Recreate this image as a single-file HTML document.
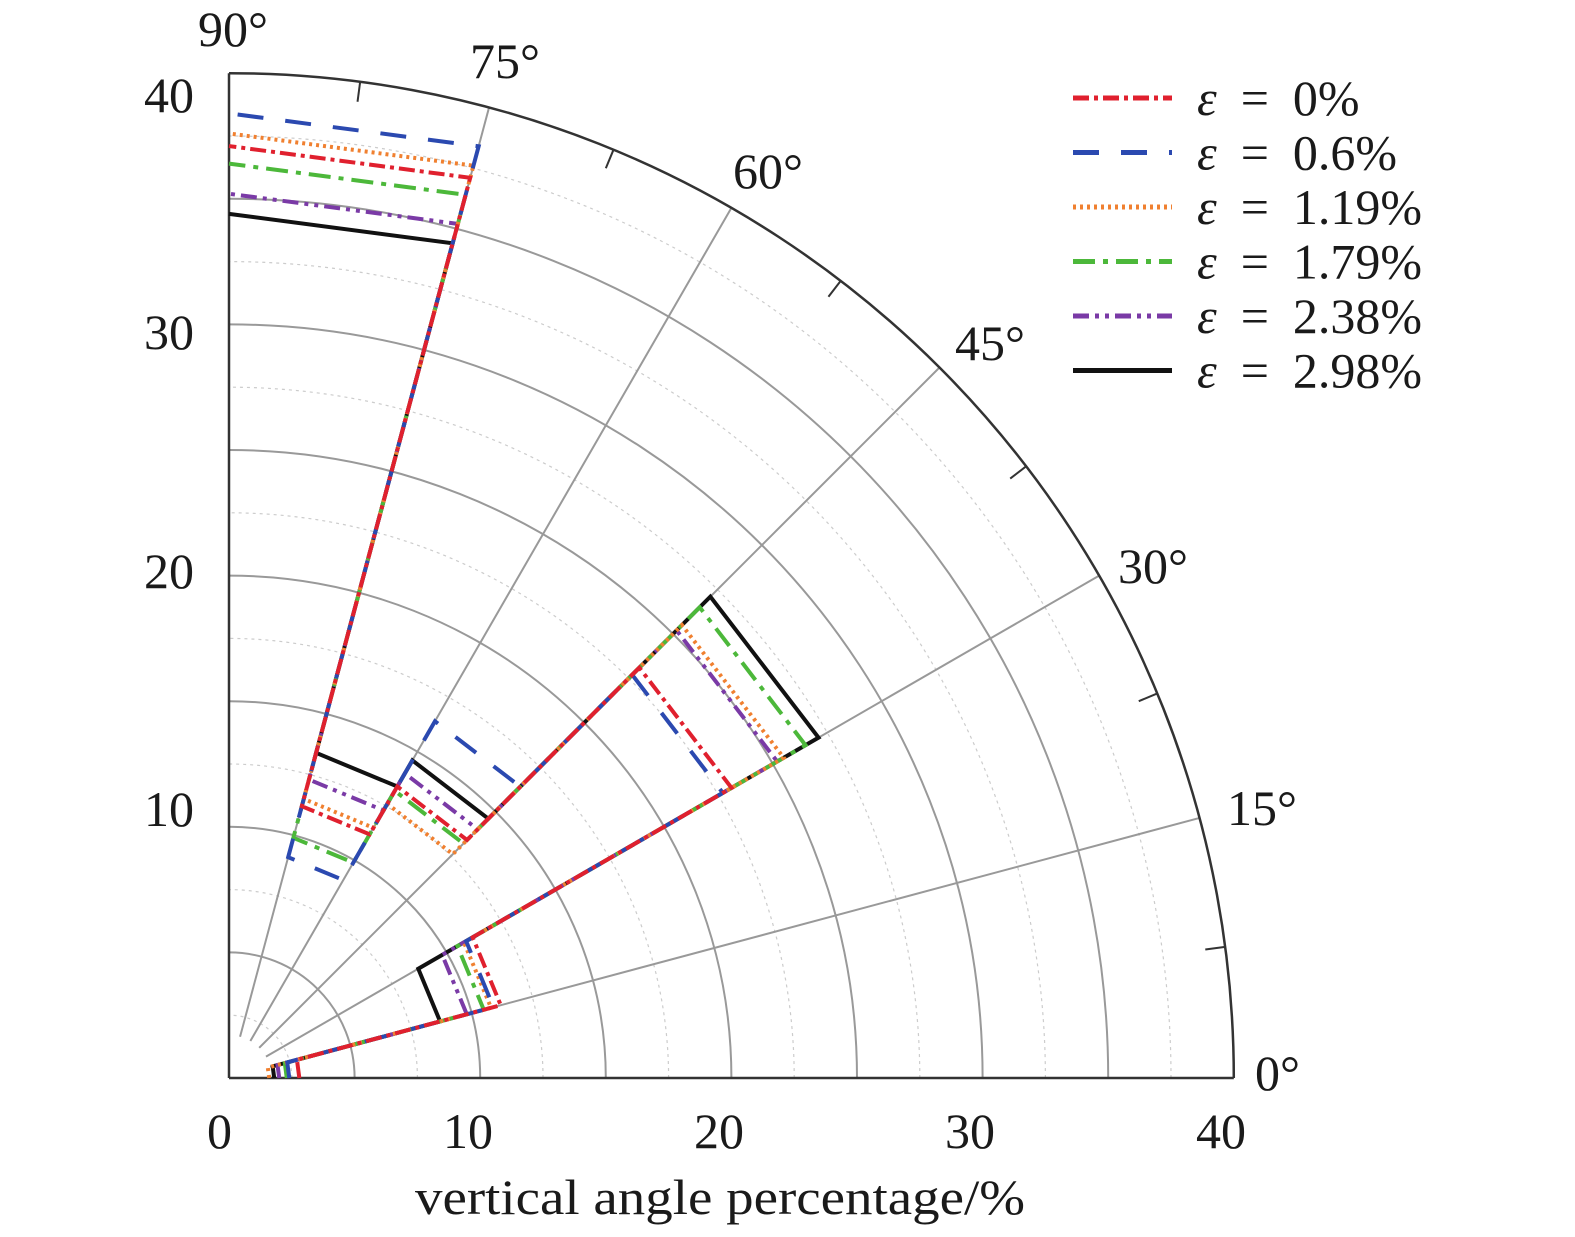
<!DOCTYPE html>
<html><head><meta charset="utf-8">
<style>
html,body{margin:0;padding:0;background:#fff;}
svg{display:block;}
text{font-family:"Liberation Serif",serif;fill:#1a1a1a;}
</style></head>
<body>
<svg id="s" width="1575" height="1237" viewBox="0 0 1575 1237" xmlns="http://www.w3.org/2000/svg">
<g id="grid"></g>
<g id="data" fill="none" stroke-width="4" stroke-linejoin="miter"></g>
<g font-size="50">
<text x="198" y="46">90°</text>
<text x="470" y="78">75°</text>
<text x="733" y="188">60°</text>
<text x="955" y="360">45°</text>
<text x="1118" y="583">30°</text>
<text x="1227" y="825">15°</text>
<text x="1255" y="1090">0°</text>
<text x="144" y="112">40</text>
<text x="144" y="349">30</text>
<text x="144" y="588">20</text>
<text x="144" y="826">10</text>
<text x="207" y="1148">0</text>
<text x="443" y="1148">10</text>
<text x="694" y="1148">20</text>
<text x="945" y="1148">30</text>
<text x="1196" y="1148">40</text>
<text x="415" y="1214" textLength="610" lengthAdjust="spacingAndGlyphs">vertical angle percentage/%</text>
</g>
<g font-size="50" id="leg"></g>
</svg>
<script>
const NS="http://www.w3.org/2000/svg";
const ox=229,oy=1078,k=25.12;
function P(r,a){a=a*Math.PI/180;return [ox+r*k*Math.cos(a),oy-r*k*Math.sin(a)];}
function el(p,tag,at){const e=document.createElementNS(NS,tag);for(const q in at)e.setAttribute(q,at[q]);p.appendChild(e);return e;}
const g=document.getElementById('grid');
function arc(r){const a=P(r,0),b=P(r,90);return `M${a[0]},${a[1]} A${r*k},${r*k} 0 0 0 ${b[0]},${b[1]}`;}
for(let r=2.5;r<40;r+=5)el(g,'path',{d:arc(r),fill:'none',stroke:'#ccc','stroke-width':1.2,'stroke-dasharray':'3,4'});
for(let r=5;r<40;r+=5)el(g,'path',{d:arc(r),fill:'none',stroke:'#999','stroke-width':2});
for(let a=15;a<90;a+=15){const p=P(1.7,a),q=P(40,a);el(g,'line',{x1:p[0],y1:p[1],x2:q[0],y2:q[1],stroke:'#999','stroke-width':2});}
for(let a=7.5;a<90;a+=15){const p=P(39.2,a),q=P(40,a);el(g,'line',{x1:p[0],y1:p[1],x2:q[0],y2:q[1],stroke:'#333','stroke-width':2});}
el(g,'path',{d:arc(40),fill:'none',stroke:'#333','stroke-width':2.5});
el(g,'line',{x1:ox,y1:oy,x2:ox+40*k,y2:oy,stroke:'#333','stroke-width':2.5});
el(g,'line',{x1:ox,y1:oy,x2:ox,y2:oy-40*k,stroke:'#333','stroke-width':2.5});
const series=[
 {c:'#e0202e',d:'16,5,4,5',r:[2.8,11.2,23.1,13.4,11.2,37.1],l:'ε = 0%'},
 {c:'#2b49b0',d:'26,22',r:[2.4,10.9,22.7,16.4,9.1,38.4],l:'ε = 0.6%'},
 {c:'#f08030',d:'3,4',r:[1.6,10.8,25.5,12.6,11.5,37.6],l:'ε = 1.19%'},
 {c:'#4cb83a',d:'22,8,5,8',r:[2.3,10.5,26.5,13.2,9.9,36.4],l:'ε = 1.79%'},
 {c:'#7a3aa6',d:'16,6,4,6,4,6',r:[2.0,9.8,25.2,14.0,12.3,35.2],l:'ε = 2.38%'},
 {c:'#111',d:'',r:[1.8,8.7,27.1,14.6,13.4,34.4],l:'ε = 2.98%'}];
const dg=document.getElementById('data');
series.slice().reverse().forEach(s=>{let pts=[];s.r.forEach((r,i)=>{pts.push(P(r,i*15));pts.push(P(r,i*15+15));});
 el(dg,'polyline',{points:pts.map(p=>p.join(',')).join(' '),stroke:s.c,'stroke-dasharray':s.d});});
const lg=document.getElementById('leg');
series.forEach((s,i)=>{const y=98+i*54.5;
 el(lg,'line',{x1:1073,y1:y,x2:1172,y2:y,stroke:s.c,'stroke-width':5,'stroke-dasharray':s.d});
 const t=el(lg,'text',{x:1197,y:y+17,'xml:space':'preserve'});
 t.innerHTML='<tspan font-style="italic">ε</tspan><tspan dx="24">=</tspan><tspan dx="24">'+s.l.split('= ')[1]+'</tspan>';});
</script>
</body></html>
